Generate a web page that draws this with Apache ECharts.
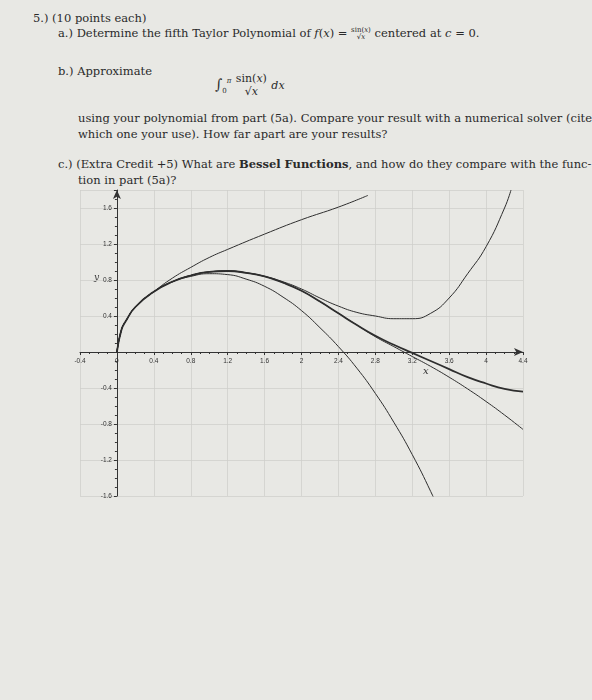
<!DOCTYPE html>
<html><head><meta charset="utf-8">
<script src="https://cdn.jsdelivr.net/npm/echarts@6/dist/echarts.min.js"></script>
<style>
body{margin:0;background:#e8e8e4;width:592px;height:700px;overflow:hidden;font-family:"DejaVu Serif","Liberation Serif",serif;color:#2a2a2a;}
.t{position:absolute;font-size:11.5px;white-space:nowrap;}
#c{position:absolute;left:0;top:185px;width:592px;height:340px;}
</style></head><body>
<div class="t" style="left:33px;top:11px">5.) (10 points each)</div>
<div class="t" style="left:58px;top:26px">a.) Determine the fifth Taylor Polynomial of <i>f</i>(<i>x</i>) = <span style="font-size:7px;display:inline-block;text-align:center;vertical-align:middle;line-height:7px">sin(<i>x</i>)<br>√<i>x</i></span> centered at <i>c</i> = 0.</div>
<div class="t" style="left:58px;top:64px">b.) Approximate</div>
<div class="t" style="left:215px;top:72px;font-size:14px">∫<sub style="font-size:7px">0</sub><sup style="font-size:7px"><i>π</i></sup> <span style="display:inline-block;text-align:center;vertical-align:middle;font-size:11px;line-height:13px">sin(<i>x</i>)<br>√<i>x</i></span> <span style="font-size:11px"><i>dx</i></span></div>
<div class="t" style="left:78px;top:111px">using your polynomial from part (5a). Compare your result with a numerical solver (cite</div>
<div class="t" style="left:78px;top:127px">which one your use). How far apart are your results?</div>
<div class="t" style="left:58px;top:157px">c.) (Extra Credit +5) What are <b>Bessel Functions</b>, and how do they compare with the func-</div>
<div class="t" style="left:78px;top:173px">tion in part (5a)?</div>
<div id="c"></div>
<script>
const xTicks=[-0.4,0,0.4,0.8,1.2,1.6,2,2.4,2.8,3.2,3.6,4,4.4];
const xA=[0,0.05,0.1,0.2,0.4,0.6,0.8,1.0,1.2,1.6,2.0,2.4,2.72];
const yA=[0,0.25,0.35,0.5,0.67,0.82,0.94,1.05,1.14,1.31,1.47,1.61,1.74];
const xB=[0,0.05,0.1,0.2,0.4,0.6,0.8,1.0,1.2,1.4,1.6,1.8,2.0,2.2,2.4,2.6,2.8,3.0,3.2,3.4,3.6,3.8,4.0,4.2,4.4];
const yB=[0,0.25,0.35,0.5,0.67,0.78,0.85,0.89,0.9,0.88,0.84,0.77,0.68,0.56,0.43,0.3,0.18,0.08,-0.01,-0.1,-0.19,-0.28,-0.35,-0.41,-0.44];
const xC=[0,0.05,0.1,0.2,0.4,0.6,0.8,1.0,1.2,1.4,1.6,1.8,2.0,2.2,2.4,2.6,2.8,3.0,3.2,3.4,3.6];
const yC=[0,0.25,0.35,0.5,0.67,0.78,0.84,0.87,0.86,0.81,0.73,0.61,0.46,0.27,0.06,-0.18,-0.46,-0.78,-1.14,-1.55,-2.0];
const xD=[0,0.05,0.1,0.2,0.4,0.6,0.8,1.0,1.2,1.4,1.6,1.8,2.0,2.2,2.4,2.6,2.8,3.0,3.2,3.4,3.6,3.8,4.0,4.2,4.27];
const yD=[0,0.25,0.35,0.5,0.67,0.78,0.85,0.89,0.9,0.88,0.84,0.78,0.7,0.6,0.51,0.44,0.4,0.37,0.37,0.43,0.6,0.87,1.17,1.6,1.8];
const xE=[0,0.05,0.1,0.2,0.4,0.6,0.8,1.0,1.2,1.4,1.6,1.8,2.0,2.2,2.4,2.6,2.8,3.0,3.2,3.4,3.6,3.8,4.0,4.2,4.4];
const yE=[0,0.25,0.35,0.5,0.67,0.78,0.85,0.89,0.9,0.88,0.84,0.77,0.68,0.56,0.43,0.3,0.17,0.06,-0.05,-0.16,-0.28,-0.41,-0.55,-0.7,-0.86];
const pts=(xs,ys)=>xs.map((x,i)=>[x,ys[i]]);
const ch=echarts.init(document.getElementById('c'));
const ln=(d,w)=>({type:'line',data:d,smooth:true,showSymbol:false,clip:true,lineStyle:{color:'#2e2e2e',width:w}});
const XMIN=-0.4,XMAX=4.4,YMIN=-1.6,YMAX=1.8,GW=443,GH=306;
ch.setOption({
 animation:false,
 grid:{left:80,width:GW,top:5,height:GH},
 xAxis:{type:'value',min:XMIN,max:XMAX,interval:0.4,position:'bottom',offset:-(0-YMIN)/(YMAX-YMIN)*GH,
  axisLine:{onZero:false,symbol:['none','arrow'],symbolSize:[6,9],lineStyle:{color:'#333'}},
  axisTick:{length:3,lineStyle:{color:'#333'}},minorTick:{show:true,splitNumber:4,length:2},
  axisLabel:{fontSize:6.5,color:'#333',margin:6,formatter:v=>+v.toFixed(1)},
  splitLine:{lineStyle:{color:'#cfcfcc',width:0.8}}},
 yAxis:{type:'value',min:YMIN,max:YMAX,interval:0.4,position:'left',offset:-(0-XMIN)/(XMAX-XMIN)*GW,
  axisLine:{onZero:false,symbol:['none','arrow'],symbolSize:[6,9],lineStyle:{color:'#333'}},
  axisTick:{length:3,lineStyle:{color:'#333'}},minorTick:{show:true,splitNumber:4,length:2},
  axisLabel:{fontSize:6.5,color:'#333',margin:5,formatter:v=>(v===0||v>1.7)?'':+v.toFixed(1)},
  splitLine:{lineStyle:{color:'#cfcfcc',width:0.8}}},
 graphic:[{type:'text',left:94,top:88,style:{text:'y',font:'italic 9px DejaVu Serif',fill:'#333'}},
  {type:'text',left:423,top:181,style:{text:'x',font:'italic 10px DejaVu Serif',fill:'#333'}}],
 series:[ln(pts(xA,yA),1),ln(pts(xB,yB),1.8),ln(pts(xC,yC),1),ln(pts(xD,yD),1),ln(pts(xE,yE),1)]
});
</script></body></html>
